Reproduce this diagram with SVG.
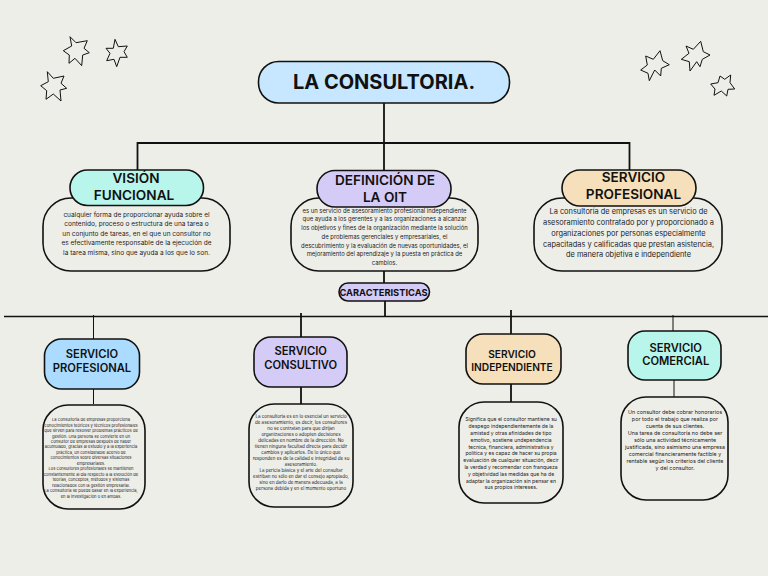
<svg xmlns="http://www.w3.org/2000/svg" width="768" height="576" viewBox="0 0 768 576">
<style>
text{font-family:Inter,"Liberation Sans",sans-serif;text-anchor:middle;fill:#111}
.n{stroke:#111;stroke-width:1.6}
.b{fill:#eeeee9;stroke:#111;stroke-width:1.6}
.h{font-size:13.6px;font-weight:600}
.s{font-size:11.200px;font-weight:600}
.t1{font-size:6.500px;fill:#222}
.t1b{font-size:7.400px;fill:#222}
.t2{font-size:5.900px;fill:#222}
.t3{font-size:4.100px;fill:#222}
.t3b{font-size:4.500px;fill:#222}
.t3c{font-size:5.100px;fill:#222}
.t3d{font-size:5.400px;fill:#222}
.c{fill:none;stroke:#111;stroke-width:1.800}
.st{fill:none;stroke:#111;stroke-width:1}
</style>
<rect width="768" height="576" fill="#eeeee9"/>
<g id="stars">
<polygon class="st" points="70,36.700 76,42.700 87.300,40.700 84,48.300 89.300,52.700 82.700,55 81.700,65.700 75,58.300 69,63.300 69.300,55 63.300,50.700 71.700,46"/>
<polygon class="st" points="115,39.300 118.300,46.700 127.300,46 124,51.700 127.300,57.300 120,57.300 116.700,66.700 114,59.300 106.700,60.700 110,53.300 106,48.300 113.300,48.300"/>
<polygon class="st" points="47.300,71.700 53.300,78.300 64,76 61,83.300 66.700,88.300 60,90 61,101 53.300,94 46,99.300 46.700,90.700 40.700,85.700 48.300,81.700"/>
<polygon class="st" points="660,50.700 662.700,60.700 669.300,64.700 661.300,68.300 660.700,76 654.700,70 649.300,80.700 648,73.300 640.700,70 647.300,65 645.700,56 653.300,59.300"/>
<polygon class="st" points="700.700,41.300 703.300,51.700 710,55 702.300,59.300 700,66.700 696.700,61.700 690,71 689.300,61.700 681.300,59.300 689,53.300 686,46 693.300,49.300"/>
<polygon class="st" points="730.700,75 730,82.700 734.700,89 728,89.300 726.700,96 721.300,91 714,95.300 715,89 710.700,84 718,82.700 720,76 724.700,79.300"/>
</g>
<g id="connectors">
<path class="c" d="M384 103V172M137.500 170V143H629.500V170"/>
<path class="c" d="M384 271V283M385 301V316"/>
<path class="c" style="stroke-width:1.500" d="M4 316.500H768"/>
<path class="c" style="stroke-width:1" d="M93.500 315V339M93.500 389V404M673 315V331M674 380V397"/>
<path class="c" d="M301 313V337M301 387V404M511 310V334M511 384V402"/>
</g>
<g id="n-vision-body"><rect class="b" x="43" y="198" width="187" height="73" rx="28"/>
<text class="t1"><tspan x="136.500" y="216.500">cualquier forma de proporcionar ayuda sobre el</tspan><tspan x="136.500" y="226">contenido, proceso o estructura de una tarea o</tspan><tspan x="136.500" y="235.500">un conjunto de tareas, en el que un consultor no</tspan><tspan x="136.500" y="245">es efectivamente responsable de la ejecución de</tspan><tspan x="136.500" y="255">la tarea misma, sino que ayuda a los que lo son.</tspan></text></g>
<g id="n-vision"><rect class="n" x="70" y="170" width="133.500" height="35.500" rx="17.500" fill="#b8f5ea"/>
<text class="h"><tspan x="136" y="183">VISIÓN</tspan><tspan x="134" y="200">FUNCIONAL</tspan></text></g>
<g id="n-oit-body"><rect class="b" x="291" y="198" width="187" height="73" rx="28"/>
<text class="t2"><tspan x="384.500" y="212.700">es un servicio de asesoramiento profesional independiente</tspan><tspan x="384.500" y="221">que ayuda a los gerentes y a las organizaciones a alcanzar</tspan><tspan x="384.500" y="229.700">los objetivos y fines de la organización mediante la solución</tspan><tspan x="384.500" y="239">de problemas gerenciales y empresariales, el</tspan><tspan x="384.500" y="247.700">descubrimiento y la evaluación de nuevas oportunidades, el</tspan><tspan x="384.500" y="256">mejoramiento del aprendizaje y la puesta en práctica de</tspan><tspan x="384.500" y="264.700">cambios.</tspan></text></g>
<g id="n-oit"><rect class="n" x="317" y="170.500" width="134" height="36.500" rx="18" fill="#d5cbf7"/>
<text class="h"><tspan x="385" y="185">DEFINICIÓN DE</tspan><tspan x="385" y="201.500">LA OIT</tspan></text></g>
<g id="n-prof-body"><rect class="b" x="534" y="198" width="188" height="73" rx="28"/>
<text class="t1b"><tspan x="628.500" y="214">La consultoría de empresas es un servicio de</tspan><tspan x="628.500" y="225">asesoramiento contratado por y proporcionado a</tspan><tspan x="628.500" y="236">organizaciones por personas especialmente</tspan><tspan x="628.500" y="246.500">capacitadas y calificadas que prestan asistencia,</tspan><tspan x="628.500" y="257">de manera objetiva e independiente</tspan></text></g>
<g id="n-prof"><rect class="n" x="562" y="170" width="134" height="36" rx="18" fill="#f5e0bb"/>
<text class="h"><tspan x="633.500" y="182">SERVICIO</tspan><tspan x="633.500" y="199">PROFESIONAL</tspan></text></g>
<g id="n-car"><rect class="n" x="339" y="283" width="90.500" height="18" rx="9" fill="#d5cbf7"/>
<text x="383.500" y="295.500" style="font-size:9.300px;font-weight:700">CARACTERISTICAS</text></g>
<g id="n-s1"><rect class="n" x="44.500" y="339" width="95" height="50" rx="17" fill="#abdcff"/>
<text class="s"><tspan x="92" y="358">SERVICIO</tspan><tspan x="92" y="372">PROFESIONAL</tspan></text></g>
<g id="n-s1-body"><rect class="b" x="43" y="405" width="102" height="104" rx="25"/>
<text class="t3"><tspan x="91" y="421">La consultoría de empresas proporciona</tspan><tspan x="91" y="426.500">conocimientos teóricos y técnicos profesionales</tspan><tspan x="91" y="432">que sirven para resolver problemas prácticos de</tspan><tspan x="91" y="437.500">gestión. Una persona se convierte en un</tspan><tspan x="91" y="443">consultor de empresas después de haber</tspan><tspan x="91" y="448">acumulado, gracias al estudio y a la experiencia</tspan><tspan x="91" y="454">práctica, un considerable acervo de</tspan><tspan x="91" y="459">conocimientos sobre diversas situaciones</tspan><tspan x="91" y="465">empresariales.</tspan><tspan x="91" y="470">Los consultores profesionales se mantienen</tspan><tspan x="91" y="476">constantemente al día respecto a la evolución de</tspan><tspan x="91" y="481">teorías, conceptos, métodos y sistemas</tspan><tspan x="91" y="487">relacionados con la gestión empresarial.</tspan><tspan x="91" y="492">La consultoría se puede basar en la experiencia,</tspan><tspan x="91" y="498">en la investigación o en ambas.</tspan></text></g>
<g id="n-s2"><rect class="n" x="254" y="337" width="93" height="50" rx="17" fill="#d5cbf7"/>
<text class="s"><tspan x="300.700" y="355">SERVICIO</tspan><tspan x="300.700" y="369">CONSULTIVO</tspan></text></g>
<g id="n-s2-body"><rect class="b" x="249" y="404" width="104" height="103" rx="25"/>
<text class="t3b"><tspan x="301" y="418">La consultoría es en lo esencial un servicio</tspan><tspan x="301" y="423.500">de asesoramiento, es decir, los consultores</tspan><tspan x="301" y="430">no se contratan para que dirijan</tspan><tspan x="301" y="436">organizaciones o adopten decisiones</tspan><tspan x="301" y="441.500">delicadas en nombre de la dirección. No</tspan><tspan x="301" y="448">tienen ninguna facultad directa para decidir</tspan><tspan x="301" y="454">cambios y aplicarlos. De lo único que</tspan><tspan x="301" y="460">responden es de la calidad e integridad de su</tspan><tspan x="301" y="465.500">asesoramiento.</tspan><tspan x="301" y="471.500">La pericia básica y el arte del consultar</tspan><tspan x="301" y="477.500">estriban no sólo en dar el consejo apropiado,</tspan><tspan x="301" y="483.500">sino en darlo de manera adecuada, a la</tspan><tspan x="301" y="490">persona debida y en el momento oportuno</tspan></text></g>
<g id="n-s3"><rect class="n" x="466" y="334" width="95" height="50" rx="17" fill="#f5e0bb"/>
<text class="s" style="font-size:10.200px"><tspan x="512" y="358">SERVICIO</tspan><tspan x="512" y="370.500">INDEPENDIENTE</tspan></text></g>
<g id="n-s3-body"><rect class="b" x="459" y="402" width="104" height="101" rx="25"/>
<text class="t3c"><tspan x="511" y="421">Significa que el consultor mantiene su</tspan><tspan x="511" y="428">despego independientemente de la</tspan><tspan x="511" y="435">amistad y otras afinidades de tipo</tspan><tspan x="511" y="441.500">emotivo, sostiene undependencia</tspan><tspan x="511" y="448.500">tecnica, financiera, administrativa y</tspan><tspan x="511" y="455">politica y es capaz de hacer su propia</tspan><tspan x="511" y="462">evaluación de cualquier situación, decir</tspan><tspan x="511" y="469">la verdad y recomendar con franqueza</tspan><tspan x="511" y="475.500">y objetividad las medidas que ha de</tspan><tspan x="511" y="482.500">adaptar la organización sin pensar en</tspan><tspan x="511" y="489">sus propios intereses.</tspan></text></g>
<g id="n-s4"><rect class="n" x="628" y="331" width="93" height="49" rx="17" fill="#b8f5ea"/>
<text class="s"><tspan x="675.700" y="352">SERVICIO</tspan><tspan x="675.700" y="365">COMERCIAL</tspan></text></g>
<g id="n-s4-body"><rect class="b" x="621" y="397" width="107" height="103" rx="25"/>
<text class="t3d"><tspan x="675" y="414">Un consultor debe cobrar honorarios</tspan><tspan x="675" y="421">por todo el trabajo que realiza por</tspan><tspan x="675" y="428">cuenta de sus clientes.</tspan><tspan x="675" y="435">Una tarea de consultoría no debe ser</tspan><tspan x="675" y="441.500">sólo una actividad técnicamente</tspan><tspan x="675" y="448.500">justificada, sino asimismo una empresa</tspan><tspan x="675" y="455.500">comercial financieramente factible y</tspan><tspan x="675" y="462.500">rentable según los criterios del cliente</tspan><tspan x="675" y="469.500">y del consultor.</tspan></text></g>
<g id="n-title"><rect class="n" x="258.500" y="61.500" width="251" height="41.500" rx="20" fill="#c6e7ff"/>
<text x="384" y="89" style="font-size:20px;font-weight:700">LA CONSULTORIA.</text></g>
</svg>
